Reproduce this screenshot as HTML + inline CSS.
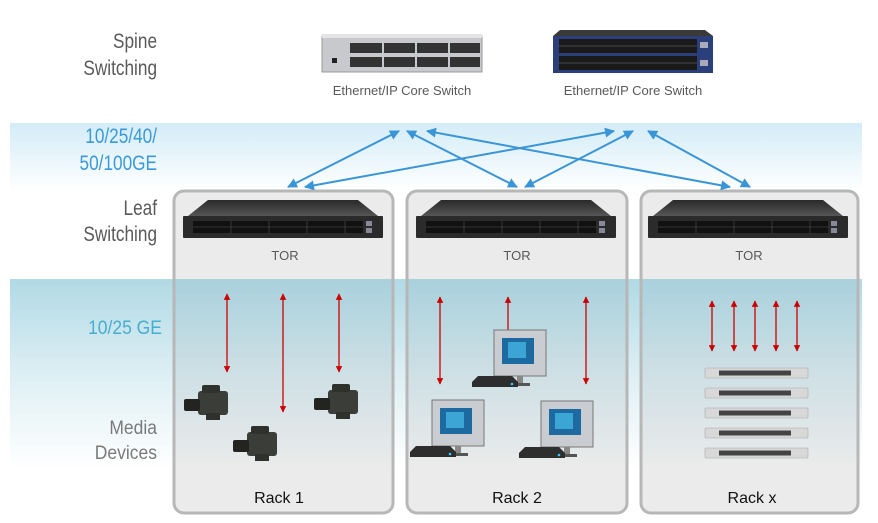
<!DOCTYPE html>
<html><head><meta charset="utf-8"><style>
html,body{margin:0;padding:0;background:#fff;width:878px;height:523px;overflow:hidden}
svg{display:block}
text{font-family:"Liberation Sans",sans-serif}
</style></head><body>
<svg width="878" height="523" viewBox="0 0 878 523" xmlns="http://www.w3.org/2000/svg">
<defs>
<linearGradient id="topband" x1="0" y1="0" x2="0" y2="1">
<stop offset="0" stop-color="#d3ecf7"/><stop offset="1" stop-color="#ffffff"/></linearGradient>
<linearGradient id="lowband" x1="0" y1="0" x2="0" y2="1">
<stop offset="0" stop-color="rgb(120,190,210)" stop-opacity="0.58"/>
<stop offset="0.5" stop-color="rgb(120,190,210)" stop-opacity="0.25"/>
<stop offset="1" stop-color="rgb(120,190,210)" stop-opacity="0"/></linearGradient>
<linearGradient id="torTop" x1="0" y1="0" x2="0" y2="1">
<stop offset="0" stop-color="#2a2a2a"/><stop offset="1" stop-color="#555"/></linearGradient>
<marker id="ab" viewBox="0 0 10 10" refX="9" refY="5" markerWidth="5" markerHeight="5" orient="auto-start-reverse"><path d="M0,0L10,5L0,10z" fill="#3a95d6"/></marker>
<marker id="ar" viewBox="0 0 10 10" refX="9" refY="5" markerWidth="5" markerHeight="5" orient="auto-start-reverse"><path d="M0,0L10,5L0,10z" fill="#cc0000"/></marker>
<g id="tor">
<path d="M25,0 L175,0 L195,16 L5,16 Z" fill="url(#torTop)"/>
<rect x="0" y="16" width="200" height="22" fill="#2b2b2b" rx="1"/>
<rect x="10" y="21" width="170" height="12" fill="#111"/>
<g stroke="#555" stroke-width="0.6">
<line x1="10" y1="27" x2="180" y2="27"/>
<line x1="48" y1="21" x2="48" y2="33"/><line x1="86" y1="21" x2="86" y2="33"/><line x1="124" y1="21" x2="124" y2="33"/><line x1="162" y1="21" x2="162" y2="33"/></g>
<rect x="183" y="21" width="6" height="5" fill="#889"/><rect x="183" y="28" width="6" height="5" fill="#889"/>
</g>
<g id="srv">
<rect x="0" y="0" width="103" height="10" rx="1" fill="#d8d8d8" stroke="#aaa" stroke-width="0.6"/>
<rect x="14" y="2.5" width="72" height="5" fill="#444"/>
</g>
<g id="cam">
<rect x="14" y="6" width="30" height="24" rx="3" fill="#3b3d38"/>
<rect x="18" y="0" width="18" height="8" rx="2" fill="#2f312c"/>
<rect x="0" y="14" width="16" height="12" rx="2" fill="#232420"/>
<rect x="22" y="28" width="14" height="7" fill="#2f312c"/>
</g>
<g id="pc">
<rect x="22" y="0" width="52" height="46" fill="#c9cdd2" stroke="#777" stroke-width="1"/>
<rect x="30" y="8" width="32" height="26" fill="#1d6aa0"/>
<rect x="36" y="12" width="18" height="16" fill="#3ba6d6"/>
<rect x="45" y="46" width="6" height="8" fill="#888"/>
<rect x="38" y="53" width="20" height="3" fill="#555"/>
<path d="M6,46 L40,46 L46,52 L46,57 L0,57 L0,52 Z" fill="#2e2e2e"/>
<circle cx="40" cy="54" r="1.3" fill="#3cf"/>
</g>
</defs>

<rect x="10" y="123" width="852" height="68" fill="url(#topband)"/>

<rect x="174" y="191" width="219" height="322" rx="10" fill="#ebebeb"/>
<rect x="407" y="191" width="220" height="322" rx="10" fill="#ebebeb"/>
<rect x="641" y="191" width="217" height="322" rx="10" fill="#ebebeb"/>

<rect x="10" y="279" width="852" height="190" fill="url(#lowband)"/>

<rect x="174" y="191" width="219" height="322" rx="10" fill="none" stroke="#b7b7b7" stroke-width="3"/>
<rect x="407" y="191" width="220" height="322" rx="10" fill="none" stroke="#b7b7b7" stroke-width="3"/>
<rect x="641" y="191" width="217" height="322" rx="10" fill="none" stroke="#b7b7b7" stroke-width="3"/>

<g transform="scale(0.82,1)">
<g font-size="21" fill="#595959" text-anchor="end">
<text x="191.5" y="48">Spine</text><text x="191.5" y="75">Switching</text>
<text x="191.5" y="215">Leaf</text><text x="191.5" y="241">Switching</text>
</g>
<g font-size="21" fill="#3a9ad9" text-anchor="end">
<text x="191.5" y="143">10/25/40/</text><text x="191.5" y="170">50/100GE</text></g>
</g>
<g transform="scale(0.92,1)">
<text x="176" y="334" font-size="19" fill="#45aed0" text-anchor="end">10/25 GE</text>
<g font-size="19" fill="#7a7a7a" text-anchor="end">
<text x="170.6" y="434">Media</text><text x="170.6" y="459">Devices</text></g>
</g>

<rect x="322" y="36" width="160" height="36" fill="#c8c9cc" stroke="#999" stroke-width="1"/>
<rect x="322" y="34" width="160" height="4" fill="#e4e4e6"/>
<g fill="#333"><rect x="350" y="43" width="130" height="10"/><rect x="350" y="57" width="130" height="10"/></g>
<g stroke="#c8c9cc" stroke-width="2"><line x1="383" y1="42" x2="383" y2="68"/><line x1="416" y1="42" x2="416" y2="68"/><line x1="449" y1="42" x2="449" y2="68"/></g>
<rect x="332" y="58" width="5" height="5" fill="#222"/>
<path d="M560,30 L705,30 L713,36 L553,36 Z" fill="#3a3a3a"/>
<rect x="553" y="36" width="160" height="37" fill="#2b3f7a"/>
<rect x="559" y="39" width="138" height="14" fill="#1a1a1a"/><rect x="559" y="56" width="138" height="14" fill="#1a1a1a"/>
<g stroke="#777" stroke-width="0.6"><line x1="559" y1="46" x2="697" y2="46"/><line x1="559" y1="63" x2="697" y2="63"/></g>
<rect x="700" y="42" width="8" height="6" fill="#aab"/><rect x="700" y="60" width="8" height="6" fill="#aab"/>
<g font-size="13" fill="#595959" text-anchor="middle">
<text x="402" y="95">Ethernet/IP Core Switch</text><text x="633" y="95">Ethernet/IP Core Switch</text></g>

<g stroke="#3a95d6" stroke-width="2" fill="none" marker-start="url(#ab)" marker-end="url(#ab)">
<line x1="399" y1="131" x2="288" y2="187"/>
<line x1="407" y1="131" x2="517" y2="187"/>
<line x1="427" y1="131" x2="730" y2="187"/>
<line x1="614" y1="131" x2="305" y2="187"/>
<line x1="633" y1="131" x2="525" y2="187"/>
<line x1="648" y1="131" x2="750" y2="187"/>
</g>

<use href="#tor" x="183" y="200"/>
<use href="#tor" x="416" y="200"/>
<use href="#tor" x="648" y="200"/>
<g font-size="13" fill="#595959" text-anchor="middle">
<text x="285" y="260">TOR</text><text x="517" y="260">TOR</text><text x="749" y="260">TOR</text></g>

<g stroke="#cc0000" stroke-width="1.3" marker-start="url(#ar)" marker-end="url(#ar)">
<line x1="227" y1="294" x2="227" y2="372"/>
<line x1="283" y1="294" x2="283" y2="412"/>
<line x1="339" y1="294" x2="339" y2="372"/>
<line x1="440" y1="297" x2="440" y2="384"/>
<line x1="508" y1="297" x2="508" y2="346"/>
<line x1="586" y1="297" x2="586" y2="384"/>
<line x1="712" y1="301" x2="712" y2="351"/>
<line x1="734" y1="301" x2="734" y2="351"/>
<line x1="755" y1="301" x2="755" y2="351"/>
<line x1="776" y1="301" x2="776" y2="351"/>
<line x1="797" y1="301" x2="797" y2="351"/>
</g>

<use href="#cam" x="184" y="385"/>
<use href="#cam" x="314" y="384"/>
<use href="#cam" x="233" y="426"/>

<use href="#pc" x="472" y="330"/>
<use href="#pc" x="410" y="400"/>
<use href="#pc" x="519" y="401"/>

<use href="#srv" x="705" y="368"/>
<use href="#srv" x="705" y="388"/>
<use href="#srv" x="705" y="408"/>
<use href="#srv" x="705" y="428"/>
<use href="#srv" x="705" y="448"/>

<g font-size="16" fill="#111" text-anchor="middle">
<text x="279" y="503">Rack 1</text><text x="517" y="503">Rack 2</text><text x="752" y="503">Rack x</text></g>
</svg>
</body></html>
